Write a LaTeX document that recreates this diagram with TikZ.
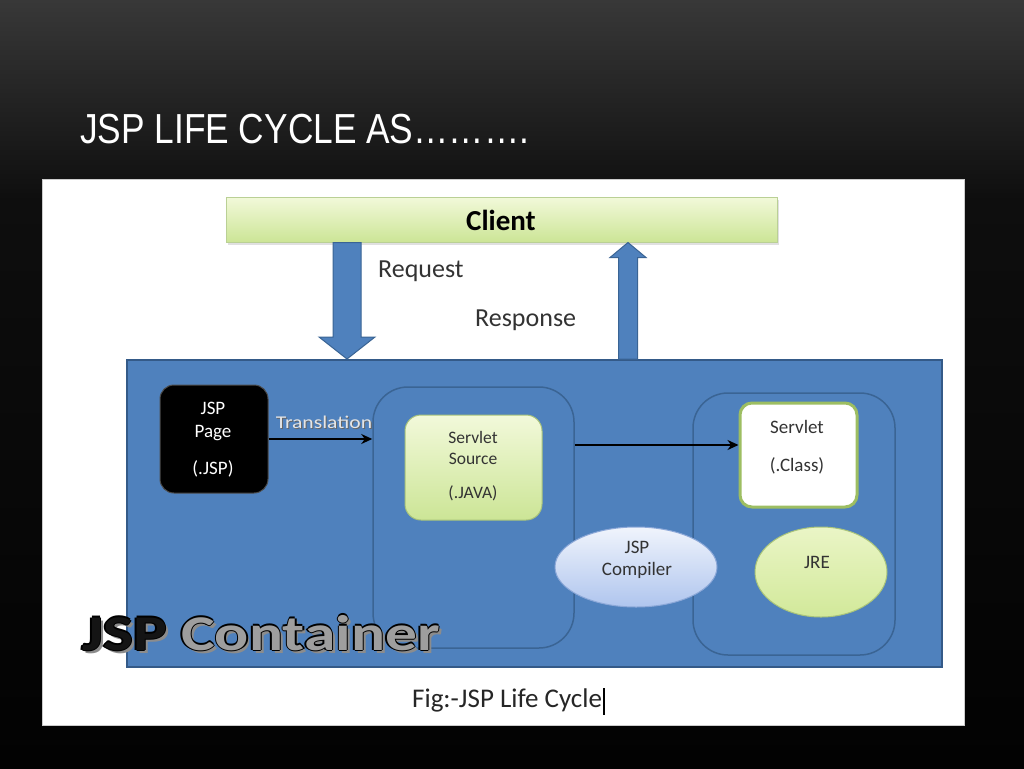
\documentclass[tikz,border=0pt]{standalone}
\usepackage{fontspec}
\setmainfont{Carlito}
\newfontfamily\titlefont{Liberation Sans}
\usetikzlibrary{shapes.geometric,arrows.meta,calc}
\definecolor{bgtop}{HTML}{383838}
\definecolor{bgmid}{HTML}{0E0E0E}
\definecolor{bgbot}{HTML}{020202}
\definecolor{boxblue}{HTML}{4F81BD}
\definecolor{boxedge}{HTML}{345A88}
\definecolor{innedge}{HTML}{3A6494}
\definecolor{grtop}{HTML}{F2F9DA}
\definecolor{grbot}{HTML}{CCE596}
\definecolor{gredge}{HTML}{A9C47A}
\definecolor{clsedge}{HTML}{9DBE62}
\definecolor{cmptop}{HTML}{F0F4FC}
\definecolor{cmpbot}{HTML}{AFC5EE}
\definecolor{cmpedge}{HTML}{8CA8D8}
\definecolor{jretop}{HTML}{EAF5C6}
\definecolor{jrebot}{HTML}{D2E99A}
\definecolor{labelc}{HTML}{333333}
\tikzset{
  lbl/.style={inner sep=0pt, anchor=base, text=labelc, font=\fontsize{19}{19}\selectfont},
  rbox/.style={draw=innedge, line width=1.5pt, fill=boxblue, rounded corners=35pt, inner sep=0pt},
  greenbox/.style={draw=gredge, line width=1pt, top color=grtop, bottom color=grbot, inner sep=0pt},
  blockarrow/.style={fill=boxblue, draw=innedge, line width=1pt, line join=miter},
  thinarrow/.style={-{Stealth[length=11pt,width=10pt]}, line width=2.2pt, draw=black},
  bigtxt/.style={inner sep=0pt, anchor=base west, font=\bfseries\fontsize{50}{50}\selectfont},
}
\begin{document}
\begin{tikzpicture}[x=1pt,y=-1pt]
\useasboundingbox (0,0) rectangle (1024,768);
% background
\fill[top color=bgtop, bottom color=bgmid] (0,0) rectangle (1024,200);
\fill[top color=bgmid, bottom color=bgbot] (0,199.5) rectangle (1024,768);
% title
\node[inner sep=0pt, anchor=base west, text=white] (title) at (80,143)
  {\scalebox{0.84}[1]{\titlefont\fontsize{42}{42}\selectfont JSP LIFE CYCLE AS……….}};
% white panel
\node[fill=white, draw=gray!40, line width=0.6pt, minimum width=922pt, minimum height=546pt, inner sep=0pt] (panel) at (503.5,452) {};
% client
\fill[black!12] (228,200) rectangle (779,245);
\node[greenbox, draw=gredge!80, minimum width=551pt, minimum height=45pt] (client) at (501.5,219.5) {};
\node[lbl, text=black, font=\bfseries\fontsize{29}{29}\selectfont] (clienttxt) at (501,230) {Client};
% container
\node[fill=boxblue, draw=boxedge, line width=2pt, minimum width=815pt, minimum height=307pt, inner sep=0pt] (cont) at (534.5,513.5) {};
% request arrow
\coordinate (reqtop) at (client.south -| 347,0);
\coordinate (reqtip) at (cont.north -| 347,0);
\draw[blockarrow] ($(reqtop)+(-14,0)$) -- ($(reqtop)+(14,0)$) -- ($(reqtip)+(14,-22)$) -- ($(reqtip)+(28,-22)$)
  -- (reqtip) -- ($(reqtip)+(-28,-22)$) -- ($(reqtip)+(-14,-22)$) -- cycle;
% response arrow
\coordinate (restip) at (client.south -| 628,0);
\coordinate (resbot) at (cont.north -| 628,0);
\draw[blockarrow] ($(resbot)+(-9.5,0)$) -- ($(restip)+(-9.5,15)$) -- ($(restip)+(-18,15)$) -- (restip)
  -- ($(restip)+(18,15)$) -- ($(restip)+(9.5,15)$) -- ($(resbot)+(9.5,0)$) -- cycle;
\node[lbl, anchor=base west, text=black!80, font=\fontsize{26}{26}\selectfont] (reqtxt) at (378,277) {Request};
\node[lbl, anchor=base west, text=black!80, font=\fontsize{26}{26}\selectfont] (restxt) at (475,326) {Response};
% JSP page
\node[fill=black, draw=black!70, line width=1pt, rounded corners=14pt, minimum width=108pt, minimum height=108pt, inner sep=0pt] (jsp) at (214,439) {};
\node[lbl, text=white] (jsp1) at (213,414) {JSP};
\node[lbl, text=white] (jsp2) at (213,437) {Page};
\node[lbl, text=white] (jsp3) at (213,474) {(.JSP)};
% translator region
\node[rbox, minimum width=201pt, minimum height=261pt] (trans) at (473.5,517.5) {};
\node[greenbox, rounded corners=16pt, minimum width=137pt, minimum height=105pt] (src) at (473.5,467.5) {};
\node[lbl, font=\fontsize{17.5}{17.5}\selectfont] (src1) at (473,443) {Servlet};
\node[lbl, font=\fontsize{17.5}{17.5}\selectfont] (src2) at (473,464) {Source};
\node[lbl, font=\fontsize{17.5}{17.5}\selectfont] (src3) at (473,498) {(.JAVA)};
% runtime region
\node[rbox, minimum width=202pt, minimum height=262pt] (run) at (794,524) {};
\node[fill=white, draw=clsedge, line width=3pt, rounded corners=12pt, minimum width=117pt, minimum height=104pt, inner sep=0pt] (cls) at (798.5,455) {};
\node[lbl] (cls1) at (797,433) {Servlet};
\node[lbl] (cls2) at (797,471) {(.Class)};
% compiler
\node[ellipse, draw=cmpedge, line width=1pt, top color=cmptop, bottom color=cmpbot, minimum width=162pt, minimum height=80pt, inner sep=0pt] (comp) at (636,567) {};
\node[lbl] (comp1) at (637,553) {JSP};
\node[lbl] (comp2) at (637,575) {Compiler};
% JRE
\node[ellipse, draw=gredge, line width=1pt, top color=jretop, bottom color=jrebot, minimum width=132pt, minimum height=90pt, inner sep=0pt] (jre) at (821,572) {};
\node[lbl] (jretxt) at (817,568) {JRE};
% arrows
\draw[thinarrow] (jsp.east) -- (jsp.east -| trans.west);
\coordinate (clsin) at ([yshift=10pt]cls.west);
\draw[thinarrow] (clsin -| trans.east) -- (clsin);
% translation label
\node[lbl, text=black!60, font=\fontsize{18}{18}\selectfont] at (325,429) {\scalebox{1.2}[1]{Translation}};
\node[lbl, text=black!10, font=\fontsize{18}{18}\selectfont] (transtxt) at (324,428) {\scalebox{1.2}[1]{Translation}};
% JSP Container label
\node[bigtxt, text=black!45] at (85,653) {\scalebox{1.27}[1]{JSP Container}};
\foreach \dx/\dy in {-1.4/0,1.4/0,0/-1.4,0/1.4}{
  \node[bigtxt, text=black] at ($(82,650)+(\dx,\dy)$) {\scalebox{1.27}[1]{JSP Container}};
}
\node[bigtxt] (conttxt) at (82,650)
  {\scalebox{1.27}[1]{\textcolor{black!92}{JSP}\ \textcolor{black!38}{Container}}};
% caption
\node[lbl, anchor=base west, text=black!85, font=\fontsize{27}{27}\selectfont] (cap) at (412,707) {Fig:-JSP Life Cycle};
\coordinate (cursortop) at ([xshift=2pt]cap.north east);
\draw[line width=2pt, black] (cursortop |- 0,688) -- (cursortop |- 0,715);
\end{tikzpicture}
\end{document}
